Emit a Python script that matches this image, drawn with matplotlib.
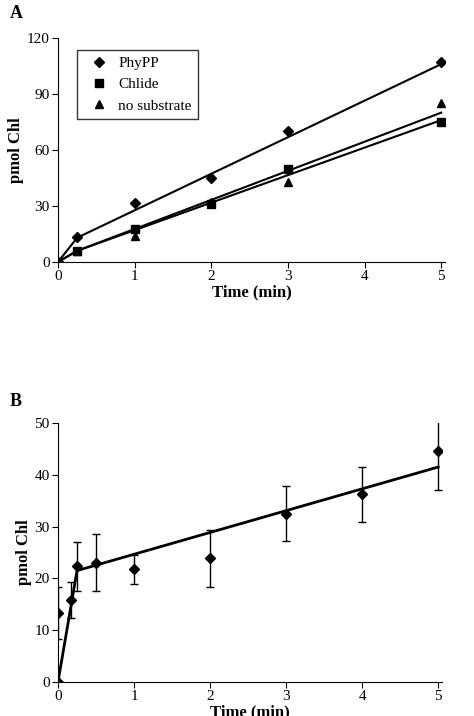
import matplotlib
matplotlib.use("Agg")
import matplotlib.pyplot as plt

plt.rcParams['font.family'] = ['Liberation Serif', 'DejaVu Serif']

# Panel A
tA = [0, 0.25, 1, 2, 3, 5]
phypp = [0, 13.5, 31.5, 45, 70, 107]
chlide = [0, 6, 17.5, 31, 50, 75]
nosub = [0, 6, 14, 32, 43, 85]
fit_x = [0, 0.25, 5]
fit_phypp = [0, 13, 106]
fit_chlide = [0, 6, 76]
fit_nosub = [0, 6, 80]

# Panel B
tB = [0, 0, 0.17, 0.25, 0.5, 1, 2, 3, 4, 5]
yB = [0, 13.3, 15.8, 22.3, 23, 21.8, 23.9, 32.5, 36.2, 44.5]
eB = [0, 5, 3.5, 4.8, 5.5, 2.8, 5.5, 5.3, 5.3, 7.5]
fitB_x = [0, 0.25, 5]
fitB_y = [0, 21.5, 41.5]

fig = plt.figure(figsize=(4.74, 7.16), dpi=100)
W, H = 474, 716
axA = fig.add_axes([58/W, 1-262/H, 387/W, 224/H])
axB = fig.add_axes([58/W, 1-682/H, 384/W, 259/H])

for ax in (axA, axB):
    for s in ['top', 'right']:
        ax.spines[s].set_visible(False)
    ax.tick_params(labelsize=11, direction='out', length=4, pad=2)
    ax.set_xlim(0, 5.05)
    ax.set_xticks(range(6))
    ax.set_xlabel('Time (min)', fontsize=12, fontweight='bold', labelpad=1)
    ax.set_ylabel('pmol Chl', fontsize=12, fontweight='bold', labelpad=2)

axA.set_ylim(0, 120)
axA.set_yticks([0, 30, 60, 90, 120])
axA.plot(tA, phypp, 'kD', ms=5, label='PhyPP', ls='none')
axA.plot(tA, chlide, 'ks', ms=6, label='Chlide', ls='none')
axA.plot(tA, nosub, 'k^', ms=6, label='no substrate', ls='none')
for fy in (fit_phypp, fit_chlide, fit_nosub):
    axA.plot(fit_x, fy, 'k-', lw=1.5)
axA.legend(loc='upper left', fontsize=11, frameon=True, edgecolor='black', fancybox=False,
           bbox_to_anchor=(0.03, 0.98), handletextpad=0.3, borderpad=0.4)
fig.text(10/W, 1-14/H, 'A', fontsize=13, fontweight='bold', va='center')

axB.set_ylim(0, 50)
axB.set_yticks(range(0, 51, 10))
axB.errorbar(tB, yB, yerr=eB, fmt='kD', ms=5, ecolor='black', elinewidth=1, capsize=3)
axB.plot(fitB_x, fitB_y, 'k-', lw=2)
fig.text(10/W, 1-402/H, 'B', fontsize=13, fontweight='bold', va='center')

fig.savefig('out.png', dpi=100)
